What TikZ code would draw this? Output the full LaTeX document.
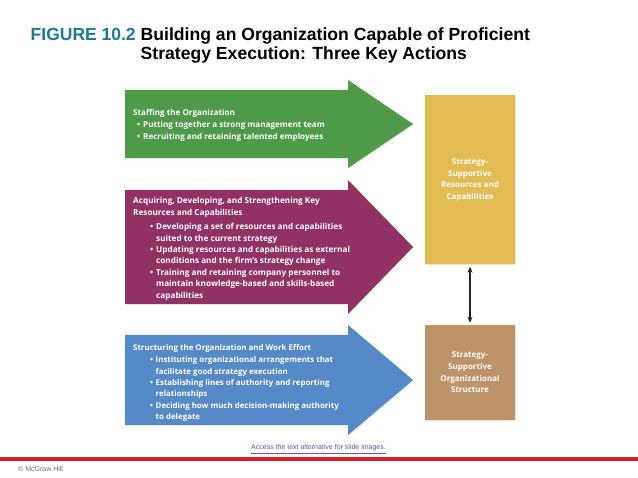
\documentclass[tikz,border=0pt]{standalone}
\usepackage{fontspec}
\setmainfont{Liberation Sans}
\newfontfamily\bodyfont{Open Sans}
\usetikzlibrary{arrows.meta,shadows}
\definecolor{figteal}{RGB}{27,122,150}
\definecolor{agreen}{RGB}{78,154,72}
\definecolor{amag}{RGB}{146,50,100}
\definecolor{ablue}{RGB}{86,137,200}
\definecolor{byellow}{RGB}{226,188,82}
\definecolor{bbrown}{RGB}{191,147,105}
\definecolor{mhred}{RGB}{212,32,44}
\definecolor{linkcol}{RGB}{88,88,165}
\definecolor{footgray}{RGB}{110,110,110}
\newcommand{\bul}[2]{\hspace*{#1}\makebox[#2][l]{\textbullet}}
\begin{document}
\begin{tikzpicture}[x=1pt,y=-1pt,
  shade/.style={drop shadow={shadow xshift=0.8pt,shadow yshift=-0.8pt,opacity=0.2}},
  atext/.style={anchor=north west, inner sep=0pt, align=left, text=white},
  sidebox/.style={rectangle, minimum width=90pt, inner sep=0pt, text=white, align=center,
    font=\bodyfont\bfseries\fontsize{8}{11.6}\selectfont, shade},
  dbl/.style={line width=1.1pt, draw={rgb,255:red,34;green,34;blue,34},
    {Stealth[length=6pt,width=5pt]}-{Stealth[length=6pt,width=5pt]}, shorten <=2pt, shorten >=2pt}
]
\useasboundingbox (0,0) rectangle (638,478);
\fill[white] (0,0) rectangle (638,478);

% title
\node[anchor=base west, inner sep=0pt, font=\bfseries\fontsize{17.5}{18.3}\selectfont, text=figteal] (fig) at (30.5,40.7) {FIGURE 10.2};
\node[anchor=north west, inner sep=0pt, align=left, font=\bfseries\fontsize{17.6}{18.3}\selectfont] (title) at (140.5,26.7) {\rule{0pt}{14pt}Building an Organization Capable of Proficient\\Strategy Execution: Three Key Actions};

% arrows
\fill[agreen, shade] (125,90) -- (348,90) -- (348,80) -- (413,124) -- (348,168) -- (348,158) -- (125,158) -- cycle;
\fill[amag, shade] (125,190) -- (348,190) -- (348,180) -- (413,247) -- (348,314) -- (348,304) -- (125,304) -- cycle;
\fill[ablue, shade] (125,335) -- (348,335) -- (348,325) -- (413,380) -- (348,435) -- (348,425) -- (125,425) -- cycle;

\node[atext, font=\bodyfont\bfseries\fontsize{8.1}{12.2}\selectfont] (gtext) at (133,109.2)
 {\rule{0pt}{6pt}Staffing the Organization\\
  \bul{4pt}{6pt}Putting together a strong management team\\
  \bul{4pt}{6pt}Recruiting and retaining talented employees};

\node[atext, font=\bodyfont\bfseries\fontsize{8.2}{11.4}\selectfont] (mtext) at (133,197.5)
 {\rule{0pt}{6pt}Acquiring, Developing, and Strengthening Key\\
  Resources and Capabilities\\[3pt]
  \bul{17pt}{6pt}Developing a set of resources and capabilities\\
  \hspace*{23pt}suited to the current strategy\\
  \bul{17pt}{6pt}Updating resources and capabilities as external\\
  \hspace*{23pt}conditions and the firm’s strategy change\\
  \bul{17pt}{6pt}Training and retaining company personnel to\\
  \hspace*{23pt}maintain knowledge-based and skills-based\\
  \hspace*{23pt}capabilities};

\node[atext, font=\bodyfont\bfseries\fontsize{7.9}{11.3}\selectfont] (btext) at (133,344.5)
 {\rule{0pt}{6pt}Structuring the Organization and Work Effort\\[0.8pt]
  \bul{17pt}{5.5pt}Instituting organizational arrangements that\\
  \hspace*{22.5pt}facilitate good strategy execution\\
  \bul{17pt}{5.5pt}Establishing lines of authority and reporting\\
  \hspace*{22.5pt}relationships\\
  \bul{17pt}{5.5pt}Deciding how much decision-making authority\\
  \hspace*{22.5pt}to delegate};

% right boxes
\node[sidebox, fill=byellow, minimum height=169pt] (ybox) at (470,180) {Strategy-\\Supportive\\Resources and\\Capabilities};
\node[sidebox, fill=bbrown, minimum height=95pt] (bbox) at (470,372.5) {Strategy-\\Supportive\\Organizational\\Structure};
\draw[dbl] (ybox.south) -- (bbox.north);

% footer
\node[anchor=base, inner sep=0pt, font=\fontsize{7}{8}\selectfont, text=linkcol] (alt) at (318.5,450) {\underline{Access the text alternative for slide images.}};
\fill[mhred] (0,457) rectangle (638,461.5);
\node[anchor=base west, inner sep=0pt, font=\fontsize{7}{8}\selectfont, text=footgray] (copy) at (18,471.5) {© McGraw Hill};
\end{tikzpicture}
\end{document}
